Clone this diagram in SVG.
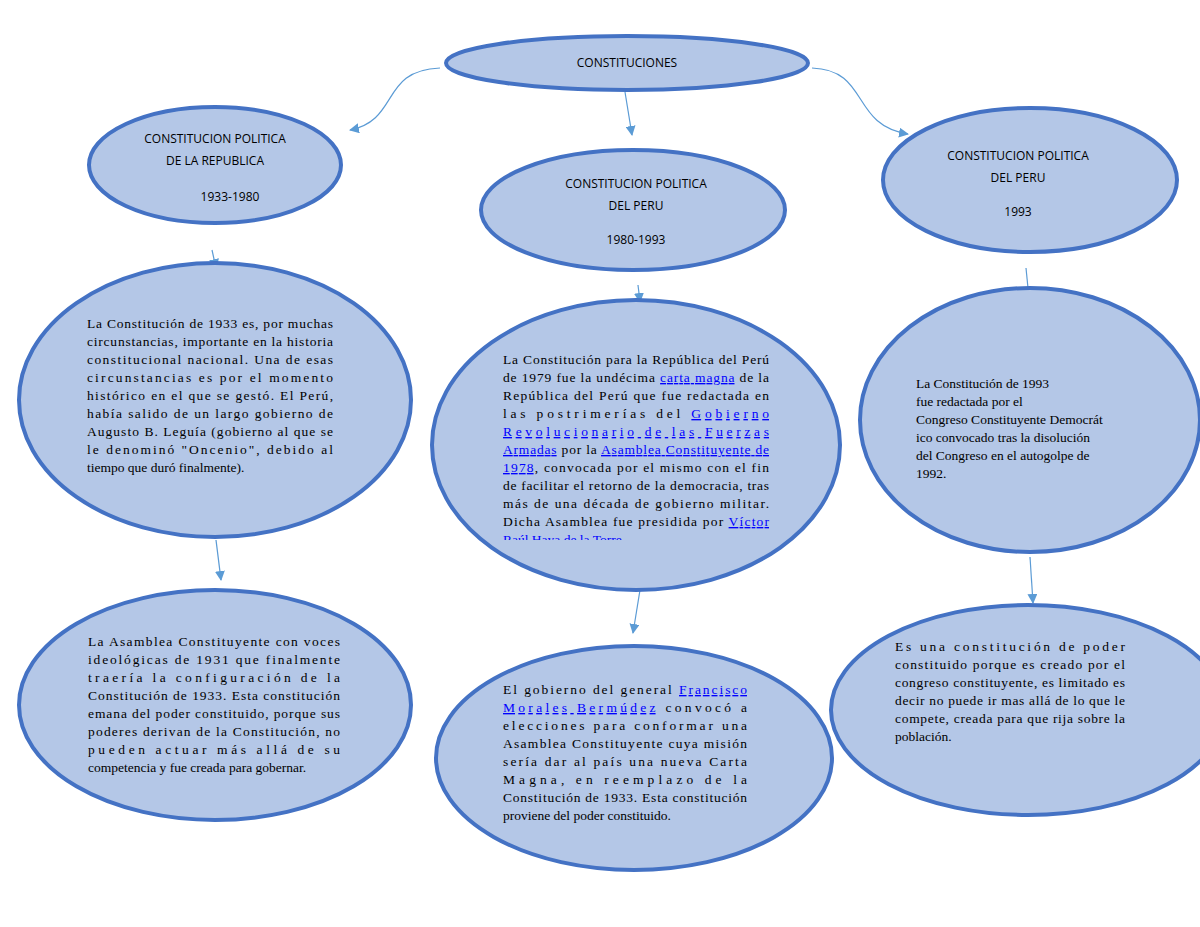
<svg xmlns="http://www.w3.org/2000/svg" width="1200" height="927" viewBox="0 0 1200 927">
<style>
.n{fill:#B4C7E7;stroke:#4472C4;stroke-width:4}
.h{font-family:"Open Sans","Liberation Sans",sans-serif;font-size:12px;fill:#000;text-anchor:middle}
.t{font-family:"Liberation Serif",serif;font-size:13.5px;fill:#000}
.l{fill:#0000FF;text-decoration:underline}
.c{fill:none;stroke:#5B9BD5;stroke-width:1.2;marker-end:url(#a)}
</style>
<defs>
<marker id="a" markerWidth="10" markerHeight="10" refX="9" refY="5" orient="auto" markerUnits="userSpaceOnUse"><path d="M0,0L10,5L0,10z" fill="#5B9BD5"/></marker>
<clipPath id="cl"><rect x="480" y="300" width="320" height="240"/></clipPath>
</defs>
<rect width="1200" height="927" fill="#fff"/>
<g id="connectors">
<path class="c" d="M440,68C380,70 400,120 350,130"/>
<path class="c" d="M812,68C870,70 850,125 908,134"/>
<path class="c" d="M625,92L632,135"/>
<path class="c" d="M212,250L216,268"/>
<path class="c" d="M216,540L221,580"/>
<path class="c" d="M638,285L640,302"/>
<path class="c" d="M640,590L633,633"/>
<path class="c" d="M1026,268L1030,308"/>
<path class="c" d="M1030,557L1033,603"/>
</g>
<g id="root"><ellipse class="n" cx="627" cy="63" rx="181" ry="27"/><text class="h" x="627" y="67">CONSTITUCIONES</text></g>
<g id="left1"><ellipse class="n" cx="215" cy="165" rx="126" ry="58"/>
<text class="h" x="215" y="143">CONSTITUCION POLITICA</text><text class="h" x="215" y="165">DE LA REPUBLICA</text><text class="h" x="230" y="201">1933-1980</text></g>
<g id="mid1"><ellipse class="n" cx="633" cy="210" rx="152" ry="60"/>
<text class="h" x="636" y="188">CONSTITUCION POLITICA</text><text class="h" x="636" y="210">DEL PERU</text><text class="h" x="636" y="244">1980-1993</text></g>
<g id="right1"><ellipse class="n" cx="1030" cy="180" rx="147" ry="72"/>
<text class="h" x="1018" y="160">CONSTITUCION POLITICA</text><text class="h" x="1018" y="182">DEL PERU</text><text class="h" x="1018" y="216">1993</text></g>
<g id="left2"><ellipse class="n" cx="215" cy="400" rx="196" ry="137"/>
<g class="t">
<text x="87" y="328" textLength="246" lengthAdjust="spacing">La Constitución de 1933 es, por muchas</text>
<text x="87" y="346" textLength="246" lengthAdjust="spacing">circunstancias, importante en la historia</text>
<text x="87" y="364" textLength="246" lengthAdjust="spacing">constitucional nacional. Una de esas</text>
<text x="87" y="382" textLength="246" lengthAdjust="spacing">circunstancias es por el momento</text>
<text x="87" y="400" textLength="246" lengthAdjust="spacing">histórico en el que se gestó. El Perú,</text>
<text x="87" y="418" textLength="246" lengthAdjust="spacing">había salido de un largo gobierno de</text>
<text x="87" y="436" textLength="246" lengthAdjust="spacing">Augusto B. Leguía (gobierno al que se</text>
<text x="87" y="454" textLength="246" lengthAdjust="spacing">le denominó "Oncenio", debido al</text>
<text x="87" y="472">tiempo que duró finalmente).</text>
</g></g>
<g id="mid2"><ellipse class="n" cx="636" cy="445" rx="204" ry="145"/>
<g class="t" clip-path="url(#cl)">
<text x="503" y="364" textLength="266" lengthAdjust="spacing">La Constitución para la República del Perú</text>
<text x="503" y="382" textLength="266" lengthAdjust="spacing">de 1979 fue la undécima <tspan class="l">carta magna</tspan> de la</text>
<text x="503" y="400" textLength="266" lengthAdjust="spacing">República del Perú que fue redactada en</text>
<text x="503" y="418" textLength="266" lengthAdjust="spacing">las postrimerías del <tspan class="l">Gobierno</tspan></text>
<text x="503" y="436" textLength="266" lengthAdjust="spacing" class="l">Revolucionario de las Fuerzas</text>
<text x="503" y="454" textLength="266" lengthAdjust="spacing"><tspan class="l">Armadas</tspan> por la <tspan class="l">Asamblea Constituyente de</tspan></text>
<text x="503" y="472" textLength="266" lengthAdjust="spacing"><tspan class="l">1978</tspan>, convocada por el mismo con el fin</text>
<text x="503" y="490" textLength="266" lengthAdjust="spacing">de facilitar el retorno de la democracia, tras</text>
<text x="503" y="508" textLength="266" lengthAdjust="spacing">más de una década de gobierno militar.</text>
<text x="503" y="526" textLength="266" lengthAdjust="spacing">Dicha Asamblea fue presidida por <tspan class="l">Víctor</tspan></text>
<text x="503" y="544" class="l">Raúl Haya de la Torre</text>
</g></g>
<g id="right2"><ellipse class="n" cx="1030" cy="420" rx="170" ry="132"/>
<g class="t">
<text x="916" y="388">La Constitución de 1993</text>
<text x="916" y="406">fue redactada por el</text>
<text x="916" y="424">Congreso Constituyente Democrát</text>
<text x="916" y="442">ico convocado tras la disolución</text>
<text x="916" y="460">del Congreso en el autogolpe de</text>
<text x="916" y="478">1992.</text>
</g></g>
<g id="left3"><ellipse class="n" cx="215" cy="705" rx="196" ry="115"/>
<g class="t">
<text x="88" y="646" textLength="252" lengthAdjust="spacing">La Asamblea Constituyente con voces</text>
<text x="88" y="664" textLength="252" lengthAdjust="spacing">ideológicas de 1931 que finalmente</text>
<text x="88" y="682" textLength="252" lengthAdjust="spacing">traería la configuración de la</text>
<text x="88" y="700" textLength="252" lengthAdjust="spacing">Constitución de 1933. Esta constitución</text>
<text x="88" y="718" textLength="252" lengthAdjust="spacing">emana del poder constituido, porque sus</text>
<text x="88" y="736" textLength="252" lengthAdjust="spacing">poderes derivan de la Constitución, no</text>
<text x="88" y="754" textLength="252" lengthAdjust="spacing">pueden actuar más allá de su</text>
<text x="88" y="772">competencia y fue creada para gobernar.</text>
</g></g>
<g id="mid3"><ellipse class="n" cx="634" cy="758" rx="198" ry="112"/>
<g class="t">
<text x="503" y="694" textLength="244" lengthAdjust="spacing">El gobierno del general <tspan class="l">Francisco</tspan></text>
<text x="503" y="712" textLength="244" lengthAdjust="spacing"><tspan class="l">Morales Bermúdez</tspan> convocó a</text>
<text x="503" y="730" textLength="244" lengthAdjust="spacing">elecciones para conformar una</text>
<text x="503" y="748" textLength="244" lengthAdjust="spacing">Asamblea Constituyente cuya misión</text>
<text x="503" y="766" textLength="244" lengthAdjust="spacing">sería dar al país una nueva Carta</text>
<text x="503" y="784" textLength="244" lengthAdjust="spacing">Magna, en reemplazo de la</text>
<text x="503" y="802" textLength="244" lengthAdjust="spacing">Constitución de 1933. Esta constitución</text>
<text x="503" y="820">proviene del poder constituido.</text>
</g></g>
<g id="right3"><ellipse class="n" cx="1028" cy="710" rx="197" ry="105"/>
<g class="t">
<text x="895" y="651" textLength="230" lengthAdjust="spacing">Es una constitución de poder</text>
<text x="895" y="669" textLength="230" lengthAdjust="spacing">constituido porque es creado por el</text>
<text x="895" y="687" textLength="230" lengthAdjust="spacing">congreso constituyente, es limitado es</text>
<text x="895" y="705" textLength="230" lengthAdjust="spacing">decir no puede ir mas allá de lo que le</text>
<text x="895" y="723" textLength="230" lengthAdjust="spacing">compete, creada para que rija sobre la</text>
<text x="895" y="741">población.</text>
</g></g>
</svg>
